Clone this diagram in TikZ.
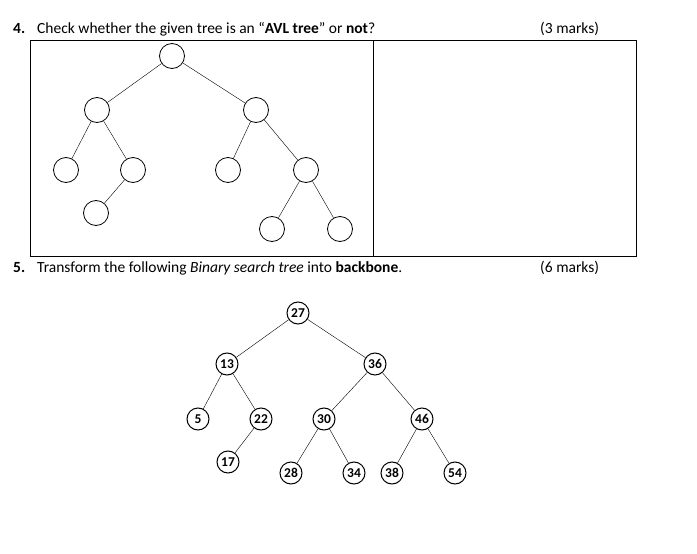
\documentclass[tikz,border=0pt]{standalone}
\usepackage{fontspec}
\setmainfont{Carlito}
\begin{document}
\begin{tikzpicture}[x=1pt,y=-1pt,
 e/.style={circle,draw,thick,minimum size=25pt,inner sep=0pt},
 k/.style={circle,draw,line width=1pt,minimum size=22pt,inner sep=0pt,font=\bfseries\fontsize{13.5}{15}\selectfont},
 t/.style={anchor=west,inner sep=0pt,font=\fontsize{15.5}{18}\selectfont}]
\useasboundingbox (0,0) rectangle (697,554);
\node[t] (n4) at (13,29) {\textbf{4.}};
\node[t] (h4) at (37,29) {Check whether the given tree is an ``\textbf{AVL tree}'' or \textbf{not}?};
\node[t] (m4) at (540,29) {(3 marks)};
\draw[thick] (30,40) rectangle (373,256);
\draw[thick] (373,40) rectangle (636,256);
\node[e] (a) at (172,56) {};
\node[e] (b) at (97,110) {};
\node[e] (c) at (256,110) {};
\node[e] (d) at (66,170) {};
\node[e] (f) at (133,170) {};
\node[e] (g) at (228,170) {};
\node[e] (h) at (306,170) {};
\node[e] (i) at (96,213) {};
\node[e] (j) at (272,229) {};
\node[e] (l) at (340,229) {};
\draw (a)--(b) (a)--(c) (b)--(d) (b)--(f) (c)--(g) (c)--(h) (f)--(i) (h)--(j) (h)--(l);
\node[t] (n5) at (13,268) {\textbf{5.}};
\node[t] (h5) at (37,268) {Transform the following \textit{Binary search tree} into \textbf{backbone}.};
\node[t] (m5) at (540,268) {(6 marks)};
\node[k] (n27) at (298,313) {27};
\node[k] (n13) at (227,364) {13};
\node[k] (n36) at (375,364) {36};
\node[k] (x5) at (198,419) {5};
\node[k] (n22) at (261,419) {22};
\node[k] (n30) at (324,419) {30};
\node[k] (n46) at (422,419) {46};
\node[k] (n17) at (228,462) {17};
\node[k] (n28) at (291,473) {28};
\node[k] (n34) at (354,473) {34};
\node[k] (n38) at (392,473) {38};
\node[k] (n54) at (455,473) {54};
\draw (n27)--(n13) (n27)--(n36) (n13)--(x5) (n13)--(n22) (n22)--(n17) (n36)--(n30) (n36)--(n46) (n30)--(n28) (n30)--(n34) (n46)--(n38) (n46)--(n54);
\end{tikzpicture}
\end{document}
